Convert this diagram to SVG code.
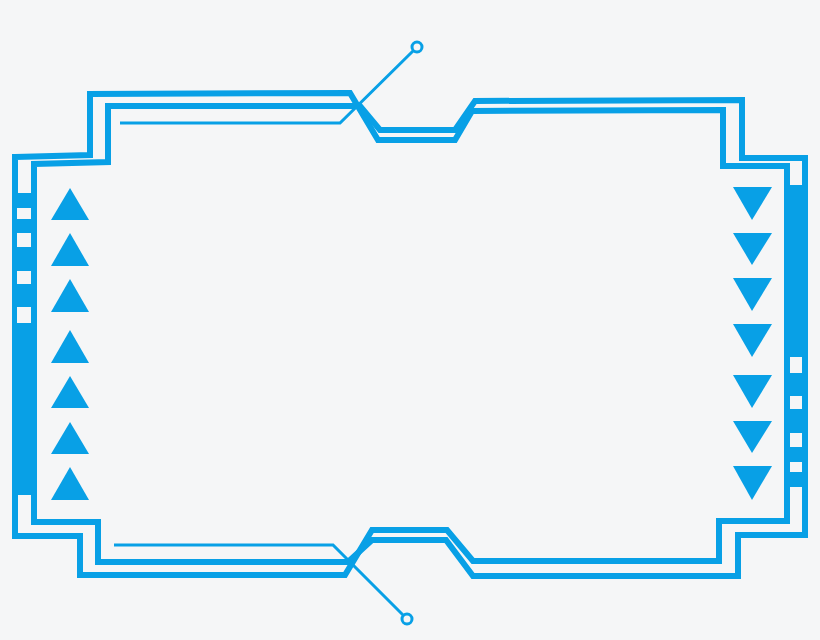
<svg xmlns="http://www.w3.org/2000/svg" width="820" height="640" viewBox="0 0 820 640">
<style>
.ln{fill:none;stroke:#08a0e6;stroke-width:6;stroke-linejoin:miter}
.th{fill:none;stroke:#08a0e6;stroke-width:3}
.f{fill:#08a0e6}
.w{fill:#f5f6f7}
</style>
<rect width="820" height="640" fill="#f5f6f7"/>
<g id="frame">
<path class="ln" d="M15,157 L90,155 L90,94 L350,93 L378,140 L455,140 L472,111 L723,110 L723,166 L787,166 L787,521 L719,521 L719,561 L473,561 L447,530 L372,530 L345,575 L80,575 L80,536 L15,536 Z"/>
<path class="ln" d="M34,522 L34,164 L108,162 L108,106 L360,106 L380,130 L455,130 L475,101 L742,100 L742,158 L805,158 L805,535 L738,535 L738,576 L473,576 L446,540 L372,540 L348,562 L98,562 L98,522 Z"/>
</g>
<g id="connectors">
<path class="th" d="M120,123 L340,123 L413,51"/>
<circle class="th" cx="417" cy="47" r="5" fill="#f5f6f7"/>
<path class="th" d="M114,545 L333,545 L403,615"/>
<circle class="th" cx="407" cy="619" r="5" fill="#f5f6f7"/>
</g>
<g id="left-bar">
<rect class="f" x="14" y="193" width="21" height="302"/>
<rect class="w" x="17" y="208" width="14" height="11"/>
<rect class="w" x="17" y="233" width="14" height="14"/>
<rect class="w" x="17" y="271" width="14" height="13"/>
<rect class="w" x="17" y="307" width="14" height="16"/>
<g class="f">
<polygon points="70,188 89,220 51,220"/>
<polygon points="70,233 89,266 51,266"/>
<polygon points="70,279 89,312 51,312"/>
<polygon points="70,330 89,363 51,363"/>
<polygon points="70,376 89,408 51,408"/>
<polygon points="70,422 89,454 51,454"/>
<polygon points="70,467 89,500 51,500"/>
</g>
</g>
<g id="right-bar">
<rect class="f" x="786" y="185" width="21" height="302"/>
<rect class="w" x="790" y="357" width="12" height="16"/>
<rect class="w" x="790" y="396" width="12" height="13"/>
<rect class="w" x="790" y="433" width="12" height="14"/>
<rect class="w" x="790" y="462" width="12" height="10"/>
<g class="f">
<polygon points="733,187 772,187 752,220"/>
<polygon points="733,233 772,233 752,265"/>
<polygon points="733,278 772,278 752,311"/>
<polygon points="733,324 772,324 752,357"/>
<polygon points="733,375 772,375 752,408"/>
<polygon points="733,421 772,421 752,453"/>
<polygon points="733,466 772,466 752,500"/>
</g>
</g>
</svg>
